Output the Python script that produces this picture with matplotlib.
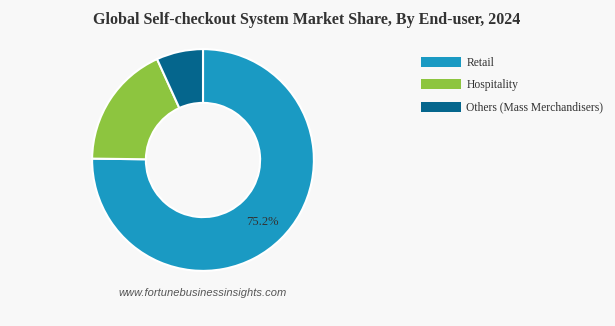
import matplotlib.pyplot as plt
import numpy as np
from matplotlib.patches import Patch

# Data
segments = ['Retail', 'Hospitality', 'Others (Mass Merchandisers)']
shares = [75.2, 18.0, 6.8]
colors = ['#1a9ac3', '#8dc53f', '#05668d']

W, H = 615, 326
fig = plt.figure(figsize=(W / 100, H / 100), dpi=100)
fig.patch.set_facecolor('#f8f8f8')

# donut: centre ~(203,160), outer radius ~112px
cx, cy, r = 203, 160, 112
ax = fig.add_axes([(cx - r) / W, (H - cy - r) / H, 2 * r / W, 2 * r / H])
ax.set_facecolor('#f8f8f8')
wedges, _ = ax.pie(shares, colors=colors, startangle=90, counterclock=False,
                   radius=1.0, wedgeprops=dict(width=0.485, edgecolor='white', linewidth=1.5))
ax.set_xlim(-1.01, 1.01)
ax.set_ylim(-1.01, 1.01)
ax.set_aspect('equal')
ax.axis('off')

# label for the retail slice, placed mid-ring at the slice midpoint
mid = np.deg2rad(90 - shares[0] / 100 * 360 / 2)
rr = 1 - 0.485 / 2
ax.text(rr * np.cos(mid), rr * np.sin(mid) - 0.02, f'{shares[0]}%', ha='center', va='center',
        fontsize=9, color='#333333', family='Liberation Serif')

fig.text(307 / W, 1 - 20 / H, 'Global Self-checkout System Market Share, By End-user, 2024',
         ha='center', va='center', fontsize=11.5, fontweight='bold', color='#333333',
         family='Liberation Serif')

handles = [Patch(facecolor=c, edgecolor='none') for c in colors]
leg = fig.legend(handles, segments, loc='upper left', bbox_to_anchor=(421 / W, 1 - 57 / H),
                 frameon=False, prop={'family': 'Liberation Serif', 'size': 8.4},
                 handlelength=3.45, handleheight=0.95, labelspacing=0.88, handletextpad=0.45,
                 borderaxespad=0, borderpad=0)
for t in leg.get_texts():
    t.set_color('#333333')

fig.text(203 / W, 1 - 293 / H, 'www.fortunebusinessinsights.com', ha='center', va='center',
         fontsize=8, style='italic', color='#555555', family='Liberation Sans')

fig.savefig('out.png', dpi=100, facecolor=fig.get_facecolor())
